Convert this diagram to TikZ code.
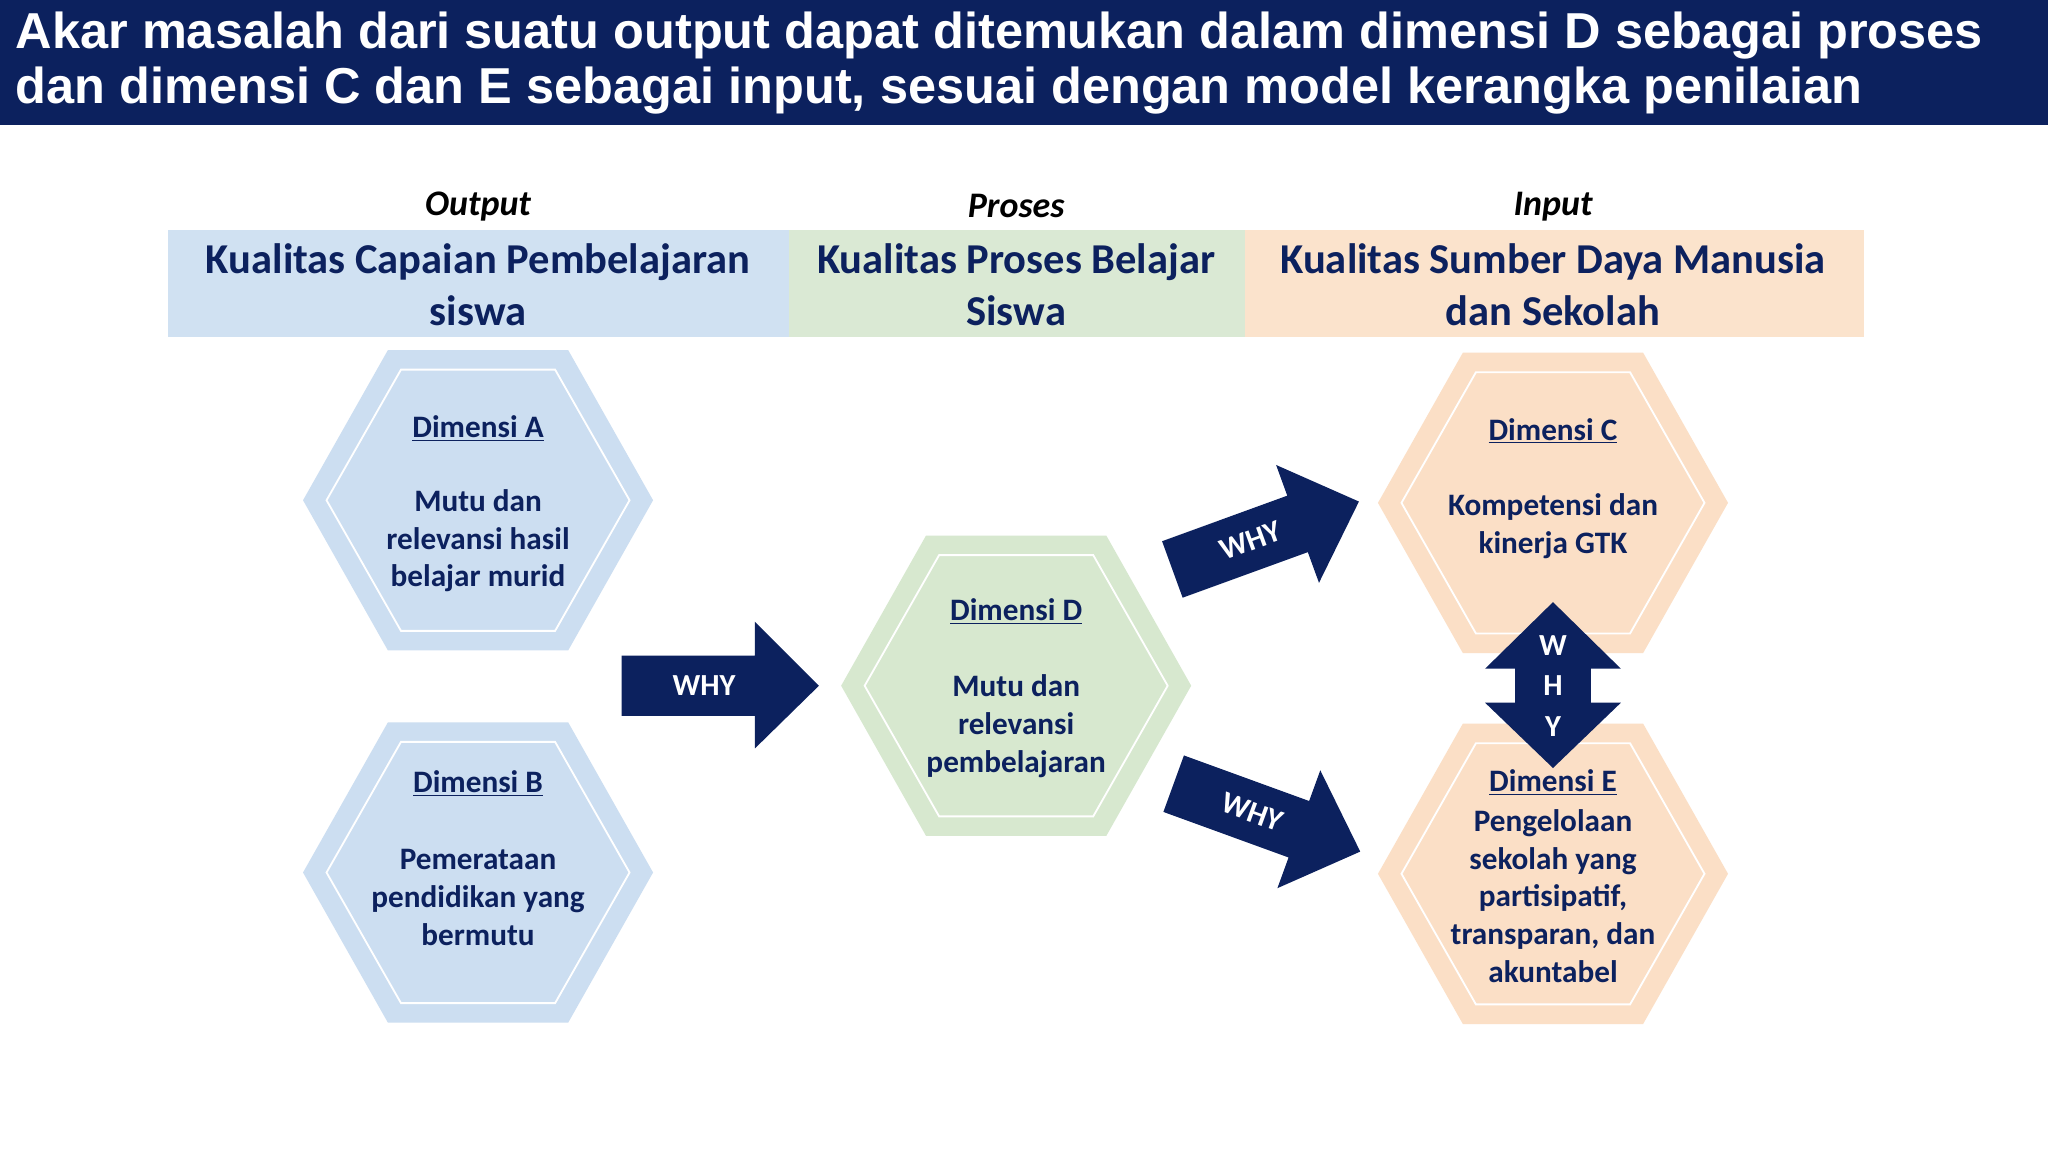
\documentclass[tikz,border=0pt]{standalone}
\usepackage{fontspec}
\setmainfont{Carlito}
\newfontfamily\titlefont{Liberation Sans}
\definecolor{navy}{HTML}{0C215E}
\definecolor{bandblue}{HTML}{D0E1F2}
\definecolor{bandgreen}{HTML}{DAE9D4}
\definecolor{bandorange}{HTML}{FBE3CC}
\definecolor{hexblue}{HTML}{CCDEF1}
\definecolor{hexgreen}{HTML}{D7E8CF}
\definecolor{hexorange}{HTML}{FBDFC6}
\newcommand\myhex[3]{%
 \fill[#3] (#1-134,#2)--(#1-69,#2-115)--(#1+69,#2-115)--(#1+134,#2)--(#1+69,#2+115)--(#1-69,#2+115)--cycle;
 \draw[white,line width=1.2pt] (#1-116,#2)--(#1-59,#2-100)--(#1+59,#2-100)--(#1+116,#2)--(#1+59,#2+100)--(#1-59,#2+100)--cycle;}
\begin{document}
\begin{tikzpicture}[x=0.3mm,y=-0.3mm,
 hdr/.style={font=\fontsize{23.5}{26}\selectfont\bfseries\itshape,text=black},
 band/.style={font=\fontsize{27.8}{33.5}\selectfont\bfseries,text=navy,align=center},
 htitle/.style={font=\fontsize{20.4}{24.7}\selectfont\bfseries,text=navy},
 hbody/.style={font=\fontsize{20.4}{24.7}\selectfont\bfseries,text=navy,align=center},
 why/.style={font=\fontsize{20}{24.7}\selectfont\bfseries,text=white}]
\useasboundingbox (0,0) rectangle (1568,882);
\fill[white] (0,0) rectangle (1568,882);
\fill[navy] (0,0) rectangle (1568,96);
\node[anchor=west,text=white,align=left,font=\titlefont\fontsize{33}{36}\selectfont\bfseries] (title) at (8,48)
 {Akar masalah dari suatu output dapat ditemukan dalam dimensi D sebagai proses\\dan dimensi C dan E sebagai input, sesuai dengan model kerangka penilaian};
\fill[bandblue] (129,176) rectangle (604,258);
\fill[bandgreen] (604,176) rectangle (953,258);
\fill[bandorange] (953,176) rectangle (1427,258);
\node[hdr] (h1) at (366,158) {Output};
\node[hdr] (h2) at (778,158) {Proses};
\node[hdr] (h3) at (1189,158) {Input};
\node[band] (b1) at (366,218) {Kualitas Capaian Pembelajaran\\siswa};
\node[band] (b2) at (778,218) {Kualitas Proses Belajar\\Siswa};
\node[band] (b3) at (1189,218) {Kualitas Sumber Daya Manusia\\dan Sekolah};
\myhex{366}{383}{hexblue}
\myhex{366}{668}{hexblue}
\myhex{778}{525}{hexgreen}
\myhex{1189}{385}{hexorange}
\myhex{1189}{669}{hexorange}
\node[htitle] (ta) at (366,328) {\underline{Dimensi A}};
\node[hbody] (ba) at (366,414) {Mutu dan\\relevansi hasil\\belajar murid};
\node[htitle] (tb) at (366,600) {\underline{Dimensi B}};
\node[hbody] (bb) at (366,687) {Pemerataan\\pendidikan yang\\bermutu};
\node[htitle] (td) at (778,468) {\underline{Dimensi D}};
\node[hbody] (bd) at (778,556) {Mutu dan\\relevansi\\pembelajaran};
\node[htitle] (tc) at (1189,330) {\underline{Dimensi C}};
\node[hbody] (bc) at (1189,403) {Kompetensi dan\\kinerja GTK};
\node[htitle] (te) at (1189,599) {\underline{Dimensi E}};
\node[hbody] (be) at (1189,686) {Pengelolaan\\sekolah yang\\partisipatif,\\transparan, dan\\akuntabel};
% arrows
\fill[navy] (476,502)--(578,502)--(578,476)--(627,525)--(578,573)--(578,548)--(476,548)--cycle;
\node[why] (w1) at (539,525) {WHY};
\begin{scope}[shift={(969,410)},rotate=20]
\fill[navy] (-76,-23)--(26,-23)--(26,-48)--(76,0)--(26,48)--(26,23)--(-76,23)--cycle;
\node[why,rotate=20] (w2) at (-12,0) {WHY};
\end{scope}
\begin{scope}[shift={(970,626)},rotate=-20]
\fill[navy] (-76,-23)--(26,-23)--(26,-48)--(76,0)--(26,48)--(26,23)--(-76,23)--cycle;
\node[why,rotate=-20] (w3) at (-12,0) {WHY};
\end{scope}
\fill[navy] (1189,461)--(1241,512)--(1218,512)--(1218,538)--(1241,538)--(1189,588)--(1137,538)--(1160,538)--(1160,512)--(1137,512)--cycle;
\node[why] (ww) at (1189,494) {W};
\node[why] (wh) at (1189,525) {H};
\node[why] (wy) at (1189,556) {Y};
\end{tikzpicture}
\end{document}
